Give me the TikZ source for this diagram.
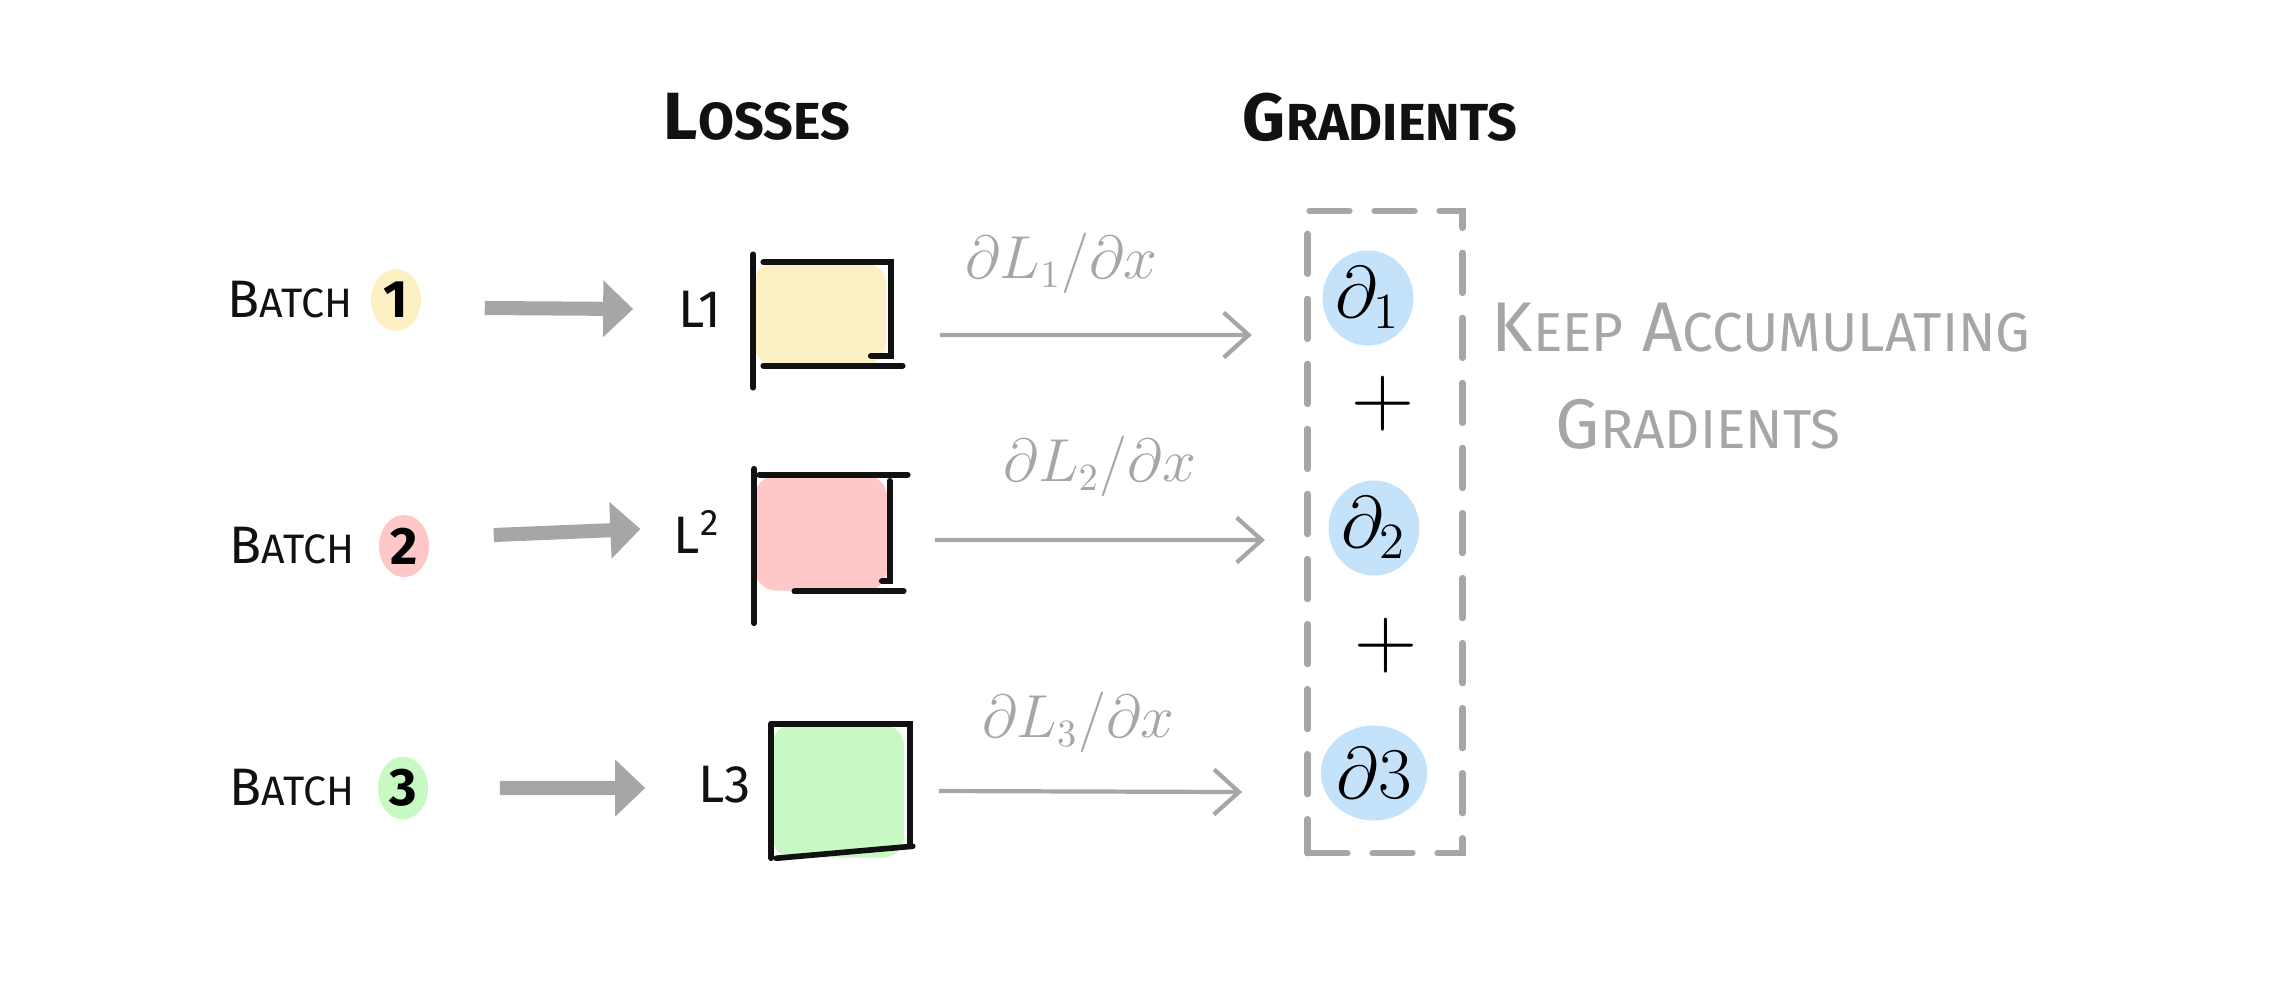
\documentclass[tikz,border=0pt]{standalone}
\usepackage{fontspec}
\setsansfont{Fira Sans}
\usetikzlibrary{arrows.meta,positioning,shapes.geometric,calc,fit,backgrounds}
\definecolor{ink}{HTML}{111111}
\definecolor{pencil}{HTML}{A6A6A6}
\definecolor{yel}{HTML}{FDF1C4}
\definecolor{rose}{HTML}{FFC8C8}
\definecolor{mint}{HTML}{C8F9C2}
\definecolor{sky}{HTML}{C5E2FB}
\newcommand{\smallcap}[2]{#1\scalebox{0.78}{#2}}

\begin{document}
\begin{tikzpicture}[
  x=0.01cm, y=-0.01cm,
  font=\sffamily,
  title/.style={font=\sffamily\bfseries\fontsize{19}{22}\selectfont,text=ink},
  batch/.style={font=\sffamily\fontsize{15}{18}\selectfont,text=ink},
  blob/.style={ellipse,inner sep=1pt,minimum width=0.5cm,minimum height=0.62cm,
              font=\sffamily\bfseries\fontsize{15}{18}\selectfont},
  loss/.style={rectangle,rounded corners=6pt,minimum width=1.32cm},
  dblob/.style={ellipse,fill=sky,minimum width=0.9cm,minimum height=0.95cm,
              inner sep=0pt,font=\fontsize{22}{24}\selectfont},
  plus/.style={font=\fontsize{26}{28}\selectfont,inner sep=0pt},
  fat/.style={-{Triangle[length=0.3cm,width=0.55cm]},draw=pencil,line width=4pt},
  garr/.style={-{Straight Barb[length=2.5mm,width=4.5mm]},draw=pencil,line width=1.2pt},
  glbl/.style={text=pencil,font=\fontsize{16}{18}\selectfont},
  rim/.style={draw=ink,line width=1.6pt,line cap=round},
  acc/.style={draw=pencil,dash pattern=on 0.4cm off 0.25cm,line width=1.8pt,line cap=round}
]
\useasboundingbox (0,0) rectangle (2287,999);

% --- titles
\node[title] (losses) at (757,117) {\smallcap{L}{OSSES}};
\node[title] (grads)  at (1380,117) {\smallcap{G}{RADIENTS}};

% --- batches
\node[batch] (bt1) at (290,300) {\smallcap{B}{ATCH}};
\node[blob,fill=yel] (n1) at (396,300) {1};
\node[batch] (bt2) at (292,546) {\smallcap{B}{ATCH}};
\node[blob,fill=rose] (n2) at (404,546) {2};
\node[batch] (bt3) at (292,788) {\smallcap{B}{ATCH}};
\node[blob,fill=mint] (n3) at (403,788) {3};

% --- losses
\node[batch] (l1) at (700,309) {L1};
\node[batch] (l2) at (697,532) {L\textsuperscript{2}};
\node[batch] (l3) at (725,785) {L3};
\node[loss,fill=yel,minimum height=1.02cm]  (b1) at (820,314) {};
\node[loss,fill=rose,minimum height=1.15cm] (b2) at (821,533) {};
\node[loss,fill=mint,minimum height=1.33cm] (b3) at (838,791) {};

\draw[rim] ([yshift=0.08cm]b1.north west) -- ([yshift=-0.22cm]b1.south west);
\draw[rim] ([xshift=0.1cm]b1.north west) -- ([xshift=0.04cm]b1.north east)
           -- ([xshift=0.04cm,yshift=0.1cm]b1.south east) -- ++(-0.2cm,0);
\draw[rim] ([xshift=0.1cm]b1.south west) -- ([xshift=0.16cm]b1.south east);

\draw[rim] ([yshift=0.06cm]b2.north west) -- ([yshift=-0.32cm]b2.south west);
\draw[rim] ([xshift=0.05cm]b2.north west) -- ([xshift=0.2cm]b2.north east);
\draw[rim] ([xshift=0.02cm,yshift=-0.06cm]b2.north east)
           -- ([xshift=0.02cm,yshift=0.1cm]b2.south east) -- ++(-0.08cm,0);
\draw[rim] ([xshift=0.4cm]b2.south west) -- ([xshift=0.16cm]b2.south east);

\draw[rim] (b3.north west) -- (b3.south west);
\draw[rim] (b3.north west) -- ([xshift=0.05cm]b3.north east) -- ([xshift=0.05cm,yshift=0.12cm]b3.south east);
\draw[rim] ([xshift=0.05cm]b3.south west) -- ([xshift=0.08cm,yshift=0.12cm]b3.south east);

\draw[fat] ([xshift=0.63cm,yshift=-0.08cm]n1.east) -- ([xshift=-0.33cm]l1.west);
\draw[fat] ([xshift=0.64cm,yshift=0.11cm]n2.east) -- ([xshift=-0.21cm,yshift=0.03cm]l2.west);
\draw[fat] ([xshift=0.71cm]n3.east) -- ([xshift=-0.41cm,yshift=-0.03cm]l3.west);

% --- gradients
\node[dblob] (d1) at (1368,298) {$\partial_1$};
\node[plus]  (p1) at (1383,404) {$+$};
\node[dblob] (d2) at (1374,528) {$\partial_2$};
\node[plus]  (p2) at (1386,646) {$+$};
\node[dblob] (d3) at (1374,773) {$\partial 3$};

\draw[garr] ([xshift=0.53cm,yshift=-0.21cm]b1.east) --
  node[glbl,pos=0.39,above=0.28cm]{$\partial L_1/\partial x$} ([xshift=-0.7cm,yshift=-0.37cm]d1.west);
\draw[garr] ([xshift=0.47cm,yshift=-0.07cm]b2.east) --
  node[glbl,pos=0.5,above=0.3cm]{$\partial L_2/\partial x$} ([xshift=-0.63cm,yshift=-0.12cm]d2.west);
\draw[garr] ([xshift=0.34cm]b3.east) --
  node[glbl,pos=0.46,above=0.25cm]{$\partial L_3/\partial x$} ([xshift=-0.78cm,yshift=-0.19cm]d3.west);

\begin{scope}[on background layer]
  \node[acc,minimum width=1.55cm,minimum height=6.42cm] (stack) at (1385,532) {};
\end{scope}

\node[text=pencil,font=\sffamily\fontsize{20}{27.6}\selectfont,align=left,
      anchor=west,inner sep=0pt] (note) at (1491,376)
  {\smallcap{K}{EEP} \smallcap{A}{CCUMULATING}\\\hspace{0.64cm}\smallcap{G}{RADIENTS}};
\end{tikzpicture}
\end{document}
